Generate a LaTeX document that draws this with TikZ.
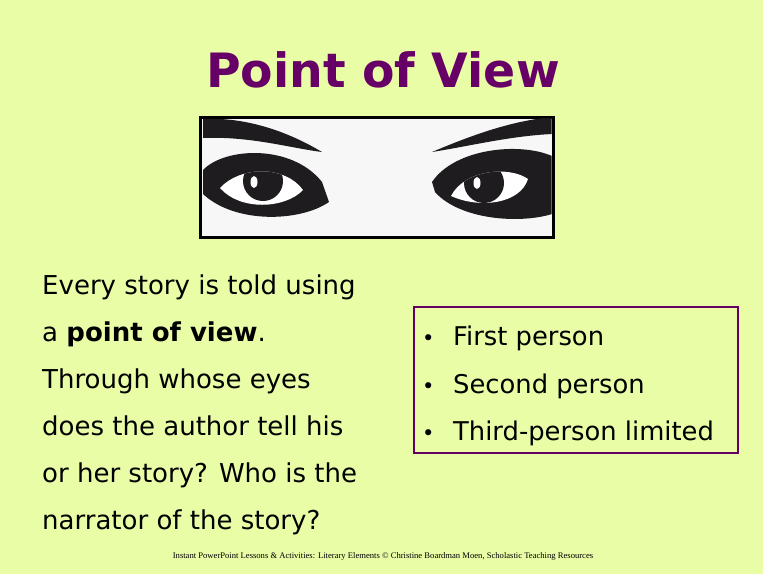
\documentclass[tikz,border=0pt]{standalone}
\usepackage{fontspec}
\setmainfont{DejaVu Sans}
\newfontfamily\footfont{Liberation Serif}
\definecolor{slidebg}{RGB}{233,252,166}
\definecolor{povpurple}{RGB}{102,0,102}
\definecolor{ink}{RGB}{30,28,30}

\begin{document}
\begin{tikzpicture}[x=1pt,y=-1pt,
    body/.style={anchor=base west,inner sep=0pt,font=\fontsize{26}{30}\selectfont},
    bullet/.style={anchor=base west,inner sep=0pt,font=\fontsize{25.8}{30}\selectfont}]
      \useasboundingbox (0,0) rectangle (763,574);
      \fill[slidebg] (0,0) rectangle (763,574);
      % title
      \node[anchor=base,inner sep=0pt,text=povpurple,font=\fontsize{47.3}{55}\selectfont\bfseries] (title) at (383,87) {Point of View};
      % eyes picture
      \draw[line width=3pt,fill=white!97!black] (200,117) rectangle (553,237);
      \begin{scope}
        \clip (201.5,118.5) rectangle (551.5,235.5);
        % brows
        \fill[ink] (203,119) .. controls (240,117) and (282,128) .. (322,152) .. controls (290,148) and (250,136) .. (203,138) -- cycle;
        \fill[ink] (432,152) .. controls (470,136) and (510,121) .. (552,117) -- (552,134) .. controls (510,136) and (470,146) .. cycle;
        % left eye
        \fill[ink] (203,170) .. controls (225,147) and (292,144) .. (322,182) -- (329,202) .. controls (300,222) and (235,224) .. (203,194) -- cycle;
        \fill[white] (220,188) .. controls (240,166) and (285,165) .. (303,190) .. controls (285,209) and (240,211) .. cycle;
        \begin{scope}
          \clip (220,188) .. controls (240,166) and (285,165) .. (303,190) .. controls (285,209) and (240,211) .. cycle;
          \fill[ink] (263,181) circle (20);
        \end{scope}
        \fill[white] (254,182) ellipse (3.5 and 6);
        % right eye
        \fill[ink] (432,182) .. controls (455,148) and (520,142) .. (552,156) -- (552,214) .. controls (520,224) and (460,220) .. (435,192) -- cycle;
        \fill[white] (451,196) .. controls (465,169) and (510,166) .. (528,179) .. controls (520,204) and (480,209) .. cycle;
        \begin{scope}
          \clip (451,196) .. controls (465,169) and (510,166) .. (528,179) .. controls (520,204) and (480,209) .. cycle;
          \fill[ink] (484,183) circle (20);
        \end{scope}
        \fill[white] (477,183) ellipse (3.5 and 6);
      \end{scope}
      % left text
      \node[body] (l1) at (42,294) {Every story is told using};
      \node[body] (l2) at (42,341) {a \textbf{point of view}.};
      \node[body] (l3) at (42,388) {Through whose eyes};
      \node[body] (l4) at (42,435) {does the author tell his};
      \node[body] (l5) at (42,482) {or her story? Who is the};
      \node[body] (l6) at (42,529) {narrator of the story?};
      % box of kinds
      \draw[povpurple,line width=2pt] (414,307) rectangle (738,453);
      \foreach \y/\t [count=\i] in {345/First person,393/Second person,440/Third-person limited}{
        \node[bullet] (d\i) at (422,\y) {\fontsize{21}{24}\selectfont\textbullet};
        \node[bullet] (k\i) at (453,\y) {\t};
      }
      % footer
      \node[anchor=base,inner sep=0pt,font=\footfont\fontsize{8.6}{10}\selectfont] (foot) at (383,558)
        {Instant PowerPoint Lessons \& Activities: Literary Elements © Christine Boardman Moen, Scholastic Teaching Resources};
    \end{tikzpicture}
\end{document}
